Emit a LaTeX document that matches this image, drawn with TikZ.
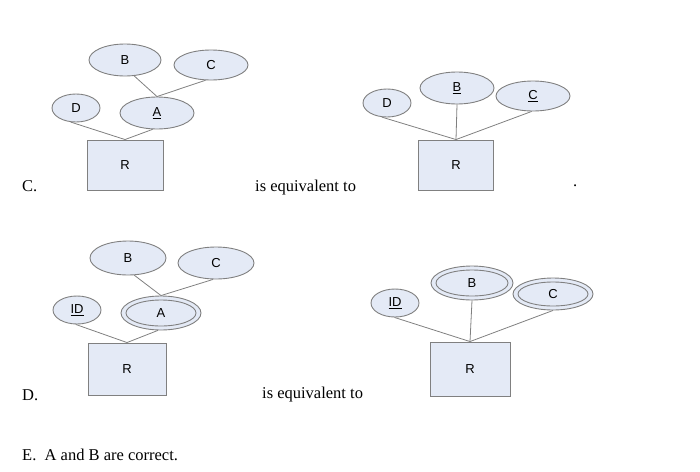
\documentclass[tikz,border=0pt]{standalone}
\usepackage{fontspec}
\setmainfont{Liberation Serif}
\newfontfamily\erfont{Liberation Sans}
\usetikzlibrary{shapes.geometric}
\definecolor{fillc}{HTML}{E4EAF6}
\definecolor{edgec}{HTML}{808080}
\tikzset{
 att/.style={ellipse,draw=edgec,fill=fillc,line width=0.9pt,inner sep=0,font=\erfont\fontsize{13}{15}\selectfont},
 ent/.style={rectangle,draw=edgec,fill=fillc,line width=0.9pt,inner sep=0,font=\erfont\fontsize{13}{15}\selectfont},
 con/.style={draw=edgec,line width=0.8pt},
 lab/.style={font=\fontsize{16.5}{19}\selectfont,anchor=west,inner sep=0}
}
\newcommand{\ul}[1]{\underline{#1}}
\begin{document}
\begin{tikzpicture}[x=1pt,y=-1pt]
\useasboundingbox (0,0) rectangle (700,471);
% C left
\node[att,minimum width=72,minimum height=32] (cB) at (125,60) {B};
\node[att,minimum width=74,minimum height=30] (cC) at (211,65) {C};
\node[att,minimum width=48,minimum height=28] (cD) at (76,108) {D};
\node[att,minimum width=74,minimum height=32] (cA) at (157,113) {\ul{A}};
\node[ent,minimum width=76,minimum height=50] (cR) at (125,165) {R};
\draw[con] (cB.-60) -- (cA.north);
\draw[con] (cC.-110) -- (cA.north);
\draw[con] (cD.-110) -- (cR.north);
\draw[con] (cA.-105) -- (cR.north);
\node[lab] (lc) at (22,186) {C.};
\node[lab] (eq1) at (255,188) {is equivalent to};
\node[lab] (dot) at (573,186) {.};
% C right
\node[att,minimum width=48,minimum height=28] (rD) at (387,103) {D};
\node[att,minimum width=74,minimum height=32] (rB) at (457,88) {\ul{B}};
\node[att,minimum width=74,minimum height=30] (rC) at (533,96) {\ul{C}};
\node[ent,minimum width=75,minimum height=50] (rR) at (456,165) {R};
\draw[con] (rD.-110) -- (rR.north);
\draw[con] (rB.south) -- (rR.north);
\draw[con] (rC.-95) -- (rR.north);
% D left
\node[att,minimum width=76,minimum height=34] (dB) at (128,258) {B};
\node[att,minimum width=76,minimum height=32] (dC) at (216,263) {C};
\node[att,minimum width=48,minimum height=28] (dID) at (77,310) {\ul{ID}};
\node[att,minimum width=80,minimum height=34] (dA) at (161,313) {};
\node[att,minimum width=70,minimum height=26] (dAi) at (161,313) {A};
\node[ent,minimum width=78,minimum height=52] (dR) at (127,369) {R};
\draw[con] (dB.-70) -- (dA.north);
\draw[con] (dC.-100) -- (dA.north);
\draw[con] (dID.-95) -- (dR.north);
\draw[con] (dA.-100) -- (dR.north);
\node[lab] (ld) at (22,395) {D.};
\node[lab] (eq2) at (262,395) {is equivalent to};
% D right
\node[att,minimum width=48,minimum height=28] (eID) at (395,303) {\ul{ID}};
\node[att,minimum width=82,minimum height=34] (eB) at (472,283) {};
\node[att,minimum width=72,minimum height=26] (eBi) at (472,283) {B};
\node[att,minimum width=80,minimum height=32] (eC) at (553,294) {};
\node[att,minimum width=70,minimum height=24] (eCi) at (553,294) {C};
\node[ent,minimum width=80,minimum height=54] (eR) at (470,369) {R};
\draw[con] (eID.-92) -- (eR.north);
\draw[con] (eB.south) -- (eR.north);
\draw[con] (eC.south) -- (eR.north);
\node[lab] (le) at (22,455) {E.\ \ A and B are correct.};
\end{tikzpicture}
\end{document}
